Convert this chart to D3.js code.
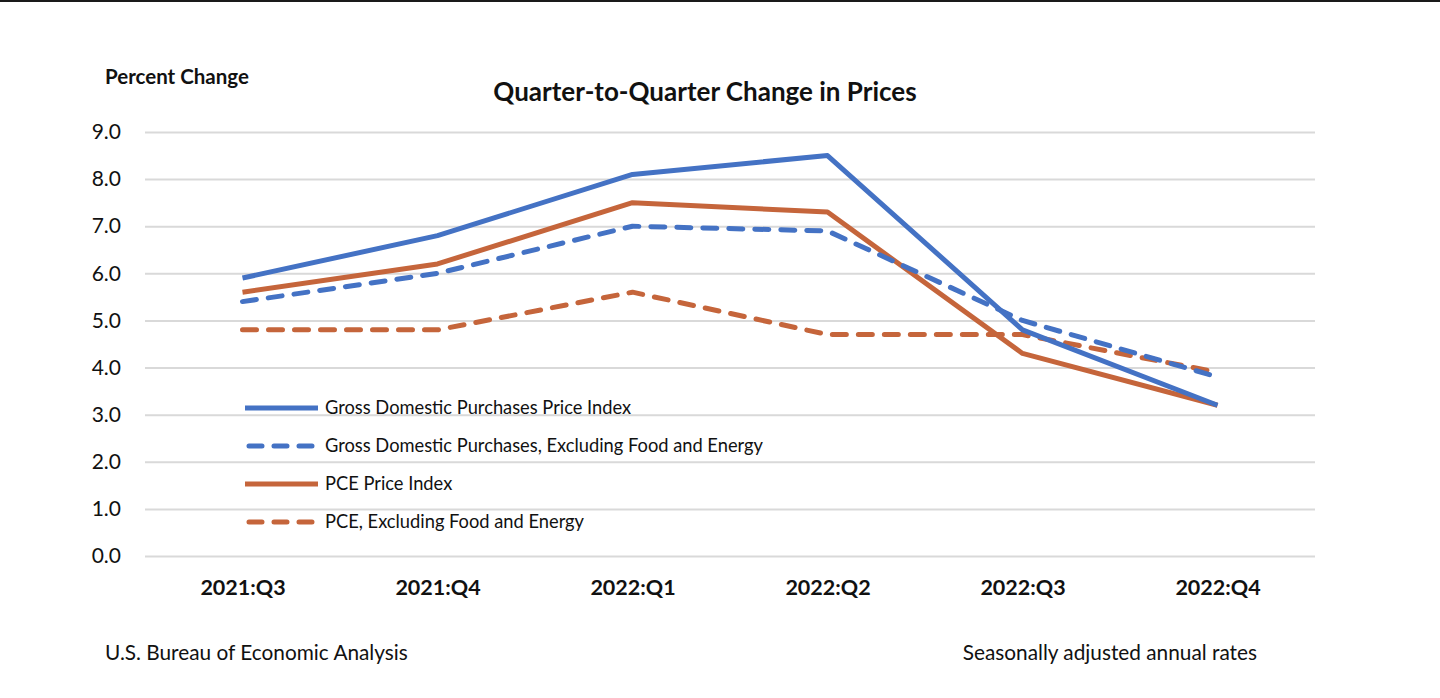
<!DOCTYPE html>
<html>
<head>
<meta charset="utf-8">
<script src="https://cdn.jsdelivr.net/npm/d3@7"></script>
<style>
  body { margin: 0; background: #fff; }
  svg text { font-family: Lato, "Open Sans", sans-serif; fill: #111; }
</style>
</head>
<body>
<svg class="chart" width="1440" height="698"></svg>
<script>
var quarters = ["2021:Q3", "2021:Q4", "2022:Q1", "2022:Q2", "2022:Q3", "2022:Q4"];
var yTicks = [0, 1, 2, 3, 4, 5, 6, 7, 8, 9];
var gdpPrice = [5.9, 6.8, 8.1, 8.5, 4.8, 3.2];
var gdpCore = [5.4, 6.0, 7.0, 6.9, 5.0, 3.8];
var pcePrice = [5.6, 6.2, 7.5, 7.3, 4.3, 3.2];
var pceCore = [4.8, 4.8, 5.6, 4.7, 4.7, 3.9];
var seriesNames = [
	"Gross Domestic Purchases Price Index",
	"Gross Domestic Purchases, Excluding Food and Energy",
	"PCE Price Index",
	"PCE, Excluding Food and Energy"
];

var blue = "#4472c4",
	orange = "#c5653b",
	gridcolor = "#d9d9d9";

var series = [
	{name: seriesNames[0], values: gdpPrice, color: blue, dash: null},
	{name: seriesNames[1], values: gdpCore, color: blue, dash: "14,12"},
	{name: seriesNames[2], values: pcePrice, color: orange, dash: null},
	{name: seriesNames[3], values: pceCore, color: orange, dash: "14,12"}
];

var svg = d3.select(".chart"),
	margin = {top: 132, right: 125, bottom: 142, left: 145},
	width = +svg.attr("width") - margin.left - margin.right,
	height = +svg.attr("height") - margin.top - margin.bottom,
	g = svg.append("g").attr("transform", "translate(" + margin.left + "," + margin.top + ")");

// top rule
svg.append("rect").attr("x", 0).attr("y", 0).attr("width", 1440).attr("height", 2).attr("fill", "#1a1a1a");

var x = d3.scalePoint()
	.domain(quarters)
	.range([0, width])
	.padding(0.5);
var y = d3.scaleLinear()
	.domain([0, 9])
	.range([height, 0]);

// grid + y axis
var left = g.append("g")
	.call(d3.axisLeft(y).tickValues(yTicks).tickSize(-width).tickPadding(24).tickFormat(d3.format(".1f")));
left.select(".domain").remove();
left.selectAll("line")
	.style("stroke", gridcolor)
	.style("stroke-width", 2);
left.selectAll("text")
	.style("font-size", "21px")
	.style("fill", "#111");

// x axis labels
var bot = g.append("g")
	.attr("transform", "translate(0," + height + ")")
	.call(d3.axisBottom(x).tickSize(0).tickPadding(24));
bot.select(".domain").remove();
bot.selectAll("text")
	.style("font-size", "21.5px")
	.style("font-weight", "bold")
	.style("fill", "#111");

var line = d3.line()
	.x(function(d, i) { return x(quarters[i]); })
	.y(function(d) { return y(d); });

// draw in reverse order so the solid blue sits on top
series.slice().reverse().forEach(function(s) {
	g.append("path")
		.datum(s.values)
		.attr("fill", "none")
		.attr("stroke", s.color)
		.attr("stroke-width", 5)
		.attr("stroke-linejoin", "round")
		.attr("stroke-linecap", s.dash ? "round" : "butt")
		.attr("stroke-dasharray", s.dash)
		.attr("d", line);
});

// legend
var legend = svg.append("g").attr("transform", "translate(245,408)");
series.forEach(function(s, i) {
	var row = legend.append("g").attr("transform", "translate(0," + (i * 38) + ")");
	row.append("line")
		.attr("x1", s.dash ? 4 : 0).attr("x2", s.dash ? 70 : 73)
		.attr("y1", 0).attr("y2", 0)
		.attr("stroke", s.color)
		.attr("stroke-width", 5)
		.attr("stroke-linecap", s.dash ? "round" : "butt")
		.attr("stroke-dasharray", s.dash ? "13,12" : null);
	row.append("text")
		.attr("x", 80)
		.attr("dy", "0.35em")
		.style("font-size", "18.3px")
		.text(s.name);
});

svg.append("text")
	.attr("x", 705).attr("y", 101)
	.attr("text-anchor", "middle")
	.style("font-size", "26px")
	.style("font-weight", "bold")
	.text("Quarter-to-Quarter Change in Prices");

svg.append("text")
	.attr("x", 105).attr("y", 84)
	.style("font-size", "20.5px")
	.style("font-weight", "bold")
	.text("Percent Change");

svg.append("text")
	.attr("x", 105).attr("y", 660)
	.style("font-size", "20.8px")
	.text("U.S. Bureau of Economic Analysis");

svg.append("text")
	.attr("x", 1257).attr("y", 660)
	.attr("text-anchor", "end")
	.style("font-size", "20.8px")
	.text("Seasonally adjusted annual rates");
</script>
</body>
</html>
